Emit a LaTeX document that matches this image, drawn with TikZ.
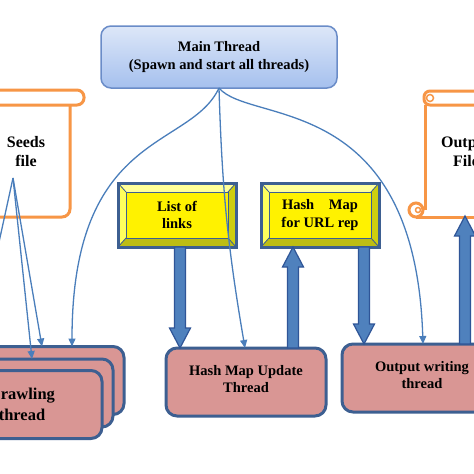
\documentclass[tikz,border=0pt]{standalone}
\usepackage{fontspec}
\setmainfont{Liberation Serif}
\usetikzlibrary{arrows.meta,calc}

\definecolor{scrollorange}{HTML}{F79646}
\definecolor{linkblue}{HTML}{4A7EBB}
\definecolor{edgeblue}{HTML}{3D5F91}
\definecolor{threadpink}{HTML}{D99694}
\definecolor{fatblue}{HTML}{4F81BD}
\definecolor{fatedge}{HTML}{2F5597}
\definecolor{mainedge}{HTML}{6A8CC8}
\definecolor{maintop}{HTML}{DDE7F8}
\definecolor{mainbottom}{HTML}{A5C0EE}
\definecolor{bevlight}{HTML}{FFFF99}
\definecolor{bevdark}{HTML}{BDBD14}

\tikzset{
    threadbox/.style={draw=edgeblue, fill=threadpink, line width=3pt, rounded corners=11pt,
        minimum width=160pt, minimum height=68pt, outer sep=0pt, align=center},
    linkbox/.style={fill=yellow, minimum width=118pt, minimum height=64pt, outer sep=0pt, align=center},
    mainbox/.style={draw=mainedge, line width=1.5pt, rounded corners=10pt, top color=maintop,
        bottom color=mainbottom, minimum width=236pt, minimum height=62pt, outer sep=0pt, align=center},
    scroll/.style={draw=scrollorange, line width=3pt},
    conn/.style={draw=linkblue, line width=1.3pt, -{Triangle[width=7pt,length=8pt]}},
    fat/.style={fill=fatblue, draw=fatedge, line width=1.2pt},
    bigtext/.style={font=\bfseries\fontsize{16}{19}\selectfont},
}

\begin{document}
\begin{tikzpicture}[x=1pt, y=-1pt, font=\bfseries\fontsize{14.5}{17.5}\selectfont]
            \useasboundingbox (0,0) rectangle (474,474);
            \fill[white] (0,0) rectangle (474,474);
            \clip (0,0) rectangle (474,474);

            \newcommand{\bevelbox}[1]{
                \fill[bevlight] (#1.north west) -- (#1.north east) -- ([shift={(-8pt,-9pt)}]#1.north east) -- ([shift={(8pt,-9pt)}]#1.north west) -- cycle;
                \fill[bevlight!60!yellow] (#1.north west) -- ([shift={(8pt,-9pt)}]#1.north west) -- ([shift={(8pt,9pt)}]#1.south west) -- (#1.south west) -- cycle;
                \fill[bevdark] (#1.south west) -- ([shift={(8pt,9pt)}]#1.south west) -- ([shift={(-8pt,9pt)}]#1.south east) -- (#1.south east) -- cycle;
                \fill[bevdark!75!yellow] (#1.south east) -- ([shift={(-8pt,9pt)}]#1.south east) -- ([shift={(-8pt,-9pt)}]#1.north east) -- (#1.north east) -- cycle;
                \draw[edgeblue, line width=0.8pt] ([shift={(8pt,-9pt)}]#1.north west) rectangle ([shift={(-8pt,9pt)}]#1.south east);
                \draw[edgeblue, line width=0.8pt] (#1.north west) -- ([shift={(8pt,-9pt)}]#1.north west)
                    (#1.north east) -- ([shift={(-8pt,-9pt)}]#1.north east)
                    (#1.south west) -- ([shift={(8pt,9pt)}]#1.south west)
                    (#1.south east) -- ([shift={(-8pt,9pt)}]#1.south east);
                \draw[edgeblue, line width=3pt] (#1.north west) rectangle (#1.south east);
            }

            \newcommand{\fatarrow}[3]{
                \draw[fat] let \p1=([xshift=#3]#1), \p2=(#2), \n1={sign(\y2-\y1)} in
                    ({\x1-5.5pt},\y1) -- ({\x1-5.5pt},{\y2-\n1*20pt}) -- ({\x1-10.5pt},{\y2-\n1*20pt})
                    -- (\x1,\y2) -- ({\x1+10.5pt},{\y2-\n1*20pt}) -- ({\x1+5.5pt},{\y2-\n1*20pt})
                    -- ({\x1+5.5pt},\y1) -- cycle;
            }

            % scrolls
            \draw[scroll, rounded corners=7pt] (-40,90) rectangle (84,105);
            \draw[scroll, rounded corners=8pt] (70,105) -- (70,217) -- (-40,217);
            \node[bigtext, align=center] (seeds) at (26,152) {Seeds\\file};

            \draw[scroll, rounded corners=6pt] (424,91) rectangle (530,105);
            \draw[scroll, line width=1.5pt] (430,98) circle (3.5pt);
            \draw[scroll] (425,105) -- (425,210);
            \draw[scroll] (416,217) -- (530,217);
            \draw[scroll] (416,210) circle (7pt);
            \draw[scroll, line width=1.5pt] (418,210) circle (2.5pt);
            \node[bigtext, align=center] (outfile) at (466,152) {Output\\File};
            \coordinate (outbase) at (469,216);

            % boxes
            \node[mainbox] (main) at (219,57) {Main Thread\\(Spawn and start all threads)};

            \node[linkbox] (links) at (177,215) {List of\\links};
            \bevelbox{links}
            \node[linkbox] (hmap) at (320,215) {\makebox[76pt][s]{Hash\ Map}\\for URL rep};
            \bevelbox{hmap}

            \foreach \n/\x/\y in {C/44/380.5, B/33/393}
                \node[threadbox] (crawl\n) at (\x,\y) {};
            \node[threadbox, font=\bfseries\fontsize{16.5}{21}\selectfont] (crawlA) at (22,404.5) {Crawling\\thread};
            \node[threadbox] (hashupd) at (246,382) {Hash Map Update\\Thread\rule[-6pt]{0pt}{0pt}};
            \node[threadbox] (outwrite) at (422,378) {Output writing\\thread\rule[-6pt]{0pt}{0pt}};

            % data flow
            \fatarrow{links.south}{hashupd.north}{3pt}
            \fatarrow{hashupd.north}{hmap.south}{47pt}
            \fatarrow{hmap.south}{outwrite.north}{44pt}
            \fatarrow{outwrite.north}{outbase}{43pt}

            % spawning
            \draw[conn] (main.south) .. controls (190,150) and (72,130) .. ([xshift=28pt]crawlC.north);
            \draw[conn] (main.south) to[bend right=4] ([xshift=-1pt]hashupd.north);
            \draw[conn] (main.south) .. controls (250,125) and (415,90) .. ([xshift=1pt]outwrite.north);

            \coordinate (seedtip) at (13,178);
            \draw[conn] (seedtip) -- ([xshift=-51pt]crawlA.north);
            \draw[conn] (seedtip) -- ([xshift=-1pt]crawlB.north);
            \draw[conn] (seedtip) -- ([xshift=-2pt]crawlC.north);
\end{tikzpicture}
\end{document}
